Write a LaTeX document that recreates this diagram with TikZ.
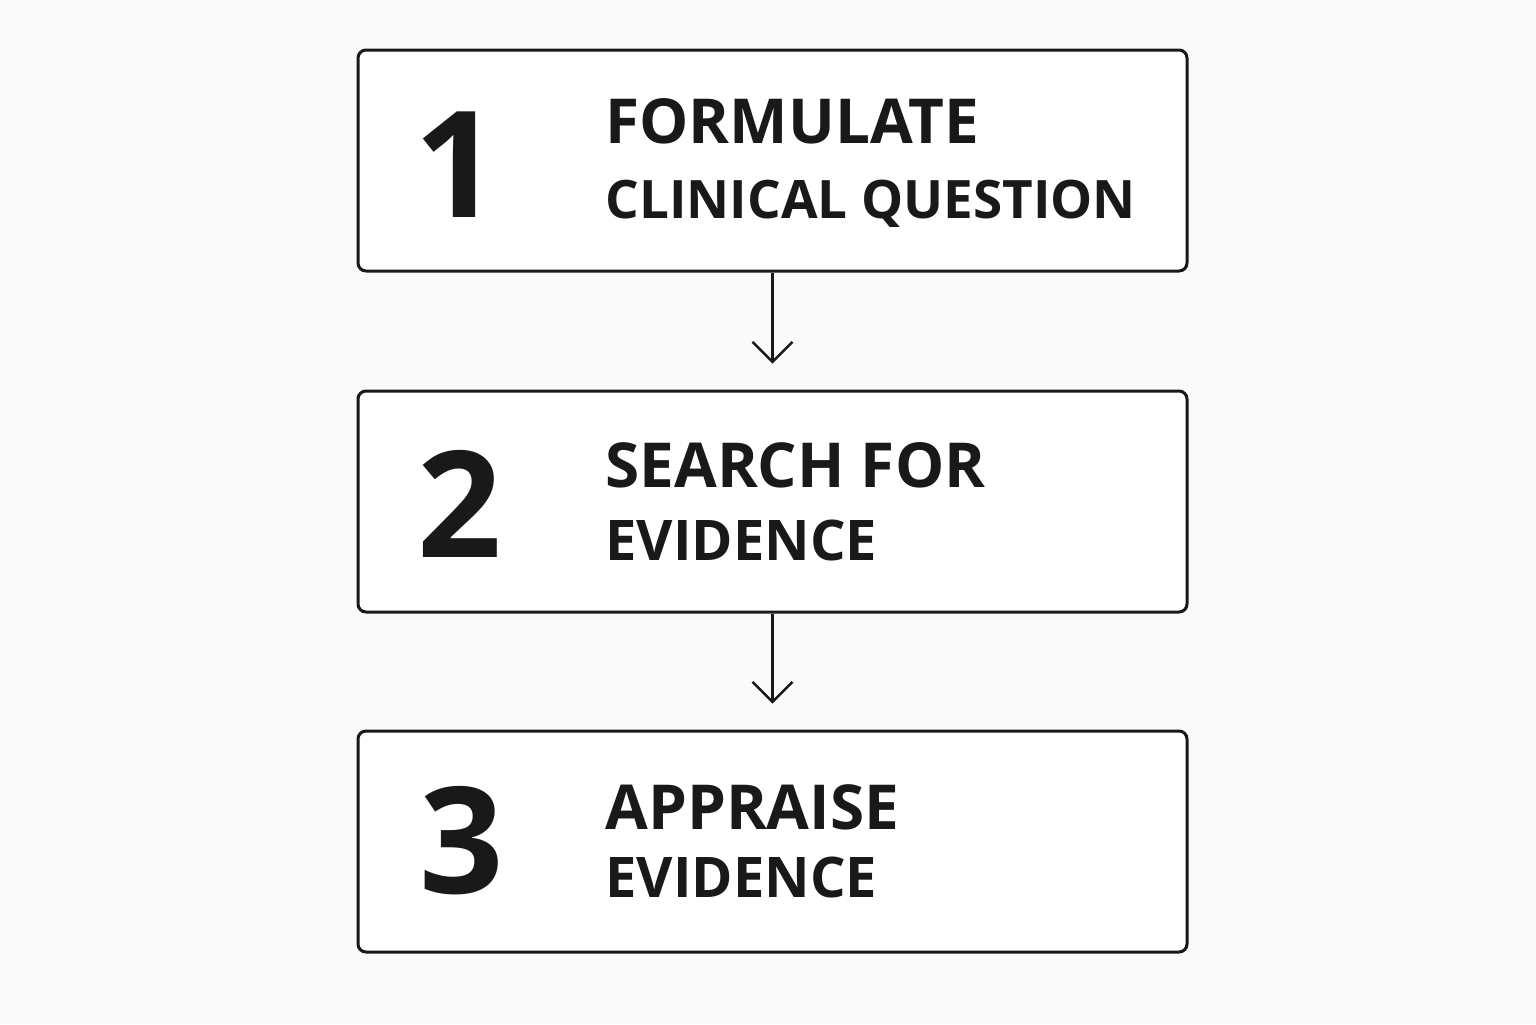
\documentclass[tikz,border=0pt]{standalone}
\usepackage{fontspec}
\setmainfont{Open Sans}
\usetikzlibrary{arrows.meta}
\begin{document}
\begin{tikzpicture}[x=0.5pt,y=-0.5pt,
  stepbox/.style={draw=black!90,line width=1.5pt,rounded corners=4pt,minimum width=414.5pt,minimum height=110.5pt,fill=white},
  num/.style={anchor=base,font=\fontsize{74}{74}\selectfont\bfseries,text=black!90},
  lbl/.style={anchor=base west,font=\fontsize{31}{31}\selectfont\bfseries,text=black!90,inner sep=0pt},
  lblb/.style={lbl,font=\fontsize{28}{28}\selectfont\bfseries},
  conn/.style={line width=1.2pt,black!90,-{Straight Barb[length=10pt,width=20pt,line width=1.2pt]},shorten >=13pt}]
\fill[white!98!black] (0,0) rectangle (1536,1024);
\node[stepbox] (b1) at (772.5,160.5) {};
\node[stepbox] (b2) at (772.5,501.5) {};
\node[stepbox] (b3) at (772.5,841.5) {};
\node[num] (n1) at (457,217) {1};
\node[num] (n2) at (460,557) {2};
\node[num] (n3) at (462,893) {3};
\node[lbl] (t1a) at (605,143) {FORMULATE};
\node[lblb,font=\fontsize{26.5}{26.5}\selectfont\bfseries] (t1b) at (605,218) {CLINICAL QUESTION};
\node[lbl] (t2a) at (605,487) {SEARCH FOR};
\node[lblb] (t2b) at (605,560) {EVIDENCE};
\node[lbl] (t3a) at (605,829) {APPRAISE};
\node[lblb] (t3b) at (605,897) {EVIDENCE};
\draw[conn] (b1.south) -- (b2.north);
\draw[conn] (b2.south) -- (b3.north);
\end{tikzpicture}
\end{document}
